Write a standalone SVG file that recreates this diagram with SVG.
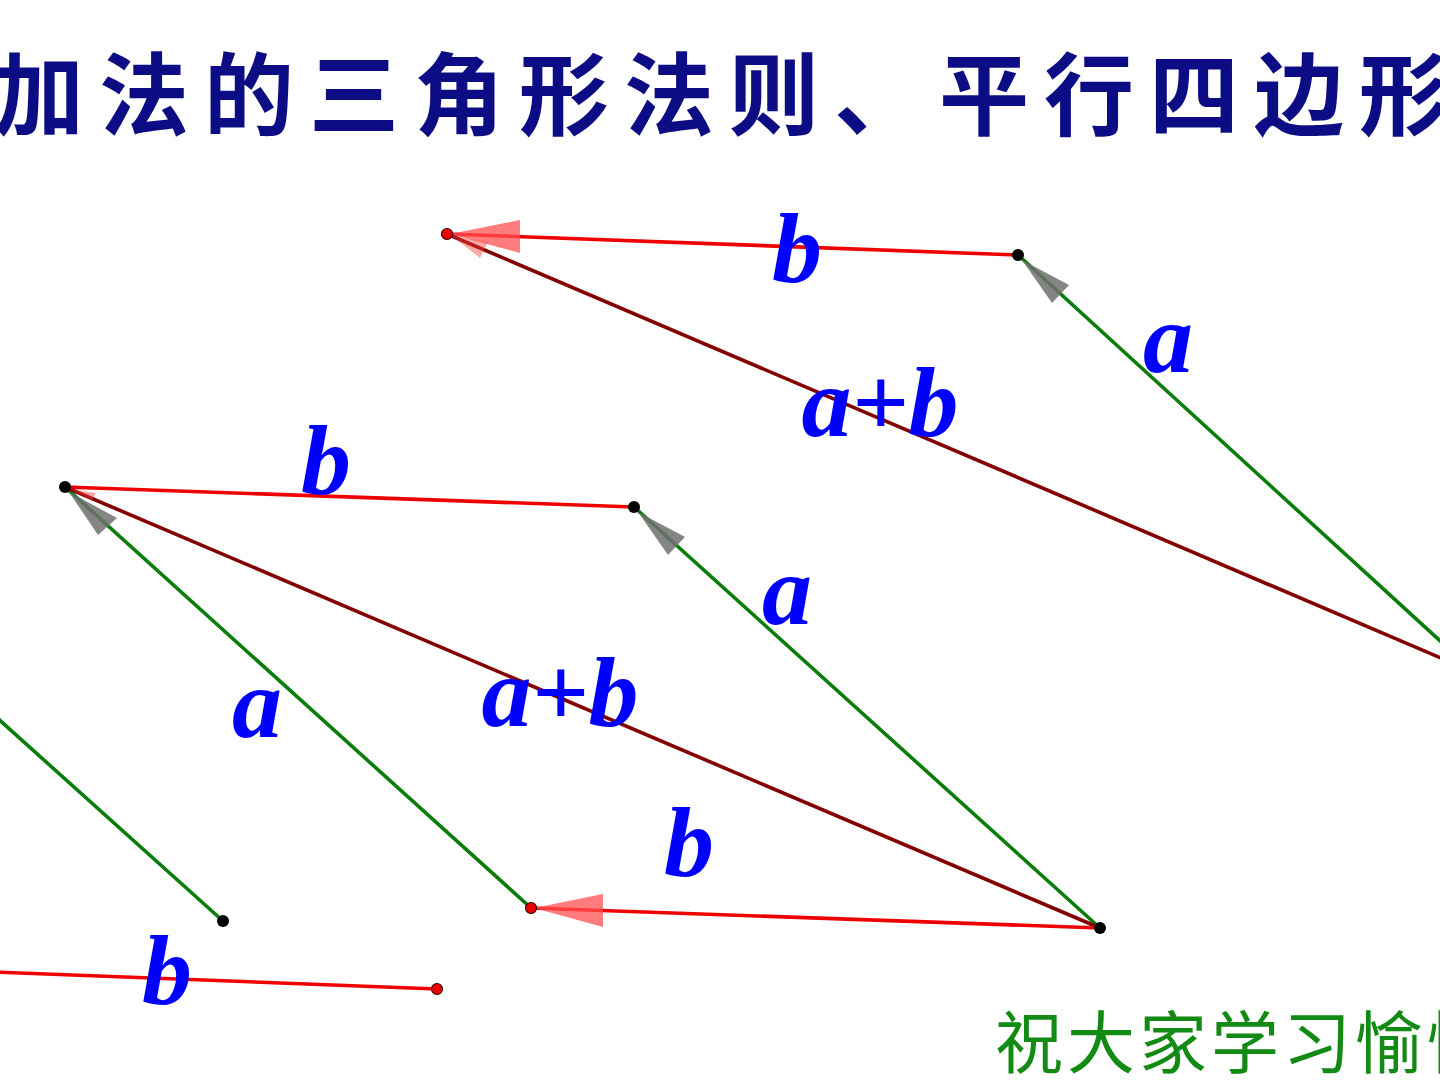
<svg xmlns="http://www.w3.org/2000/svg" width="1440" height="1080" viewBox="0 0 1440 1080">
<style>
.title{font-family:"Noto Sans CJK SC","Noto Sans CJK TC",sans-serif;font-size:90px;font-weight:bold;fill:#0c0c84;letter-spacing:15px}
.foot{font-family:"Noto Sans CJK SC","Noto Sans CJK TC",sans-serif;font-size:68px;fill:#138a13;letter-spacing:4px}
.lbl{font-family:"Liberation Serif","Times New Roman",serif;font-size:100px;font-weight:bold;font-style:italic;fill:#0000ff;text-anchor:middle}
.red{stroke:#f00000;stroke-width:3.6;fill:none}
.mar{stroke:#840000;stroke-width:3.6;fill:none}
.grn{stroke:#0a7d0a;stroke-width:3.6;fill:none}
.ahr{fill:#ff5050;fill-opacity:0.75}
.ahp{fill:#ff4040;fill-opacity:0.45}
.ahg{fill:#707070;fill-opacity:0.85}
.dk{fill:#000}
.dr{fill:#ee0000;stroke:#300;stroke-width:1.2}
</style>
<rect width="1440" height="1080" fill="#fff"/>
<text class="title" x="-6" y="128">加法的三角形法则、平行四边形</text>
<g id="connectors">
  <line class="grn" x1="1018" y1="255" x2="1448" y2="648"/>
  <line class="mar" x1="447" y1="234" x2="1448" y2="661"/>
  <line class="red" x1="447" y1="234" x2="1018" y2="255"/>
  <line class="grn" x1="634" y1="507" x2="1100" y2="928"/>
  <line class="grn" x1="65" y1="487" x2="531" y2="908"/>
  <line class="mar" x1="65" y1="487" x2="1100" y2="928"/>
  <line class="red" x1="65" y1="487" x2="634" y2="507"/>
  <line class="red" x1="531" y1="908" x2="1100" y2="928"/>
  <line class="grn" x1="-5" y1="716" x2="223" y2="921"/>
  <line class="red" x1="-5" y1="972" x2="437" y2="989"/>
  <polygon class="ahp" points="452,236 488,242 480,258"/>
  <polygon class="ahr" points="450,234 520,220 520,253"/>
  <polygon class="ahg" points="1022,260 1069,285 1052,303"/>
  <polygon class="ahp" points="70,489 96,493 92,500"/>
  <polygon class="ahg" points="69,492 117,518 98,535"/>
  <polygon class="ahg" points="638,512 685,537 668,555"/>
  <polygon class="ahr" points="534,908 603,894 603,927"/>
</g>
<g id="node-top-left"><circle class="dr" cx="447" cy="234" r="5.5"/></g>
<g id="node-top-right"><circle class="dk" cx="1018" cy="255" r="6"/></g>
<g id="node-mid-left"><circle class="dk" cx="65" cy="487" r="6"/></g>
<g id="node-mid-right"><circle class="dk" cx="634" cy="507" r="6"/></g>
<g id="node-bottom-mid"><circle class="dr" cx="531" cy="908" r="5.5"/></g>
<g id="node-bottom-right"><circle class="dk" cx="1100" cy="928" r="6"/></g>
<g id="node-free-a"><circle class="dk" cx="223" cy="921" r="6"/></g>
<g id="node-free-b"><circle class="dr" cx="437" cy="989" r="5.5"/></g>
<g id="labels">
  <text class="lbl" x="797" y="282">b</text>
  <text class="lbl" x="1168" y="372">a</text>
  <text class="lbl" x="880" y="436">a+b</text>
  <text class="lbl" x="326" y="494">b</text>
  <text class="lbl" x="787" y="624">a</text>
  <text class="lbl" x="257" y="737">a</text>
  <text class="lbl" x="560" y="726">a+b</text>
  <text class="lbl" x="689" y="876">b</text>
  <text class="lbl" x="167" y="1004">b</text>
</g>
<text class="foot" x="995" y="1068">祝大家学习愉快</text>
</svg>
